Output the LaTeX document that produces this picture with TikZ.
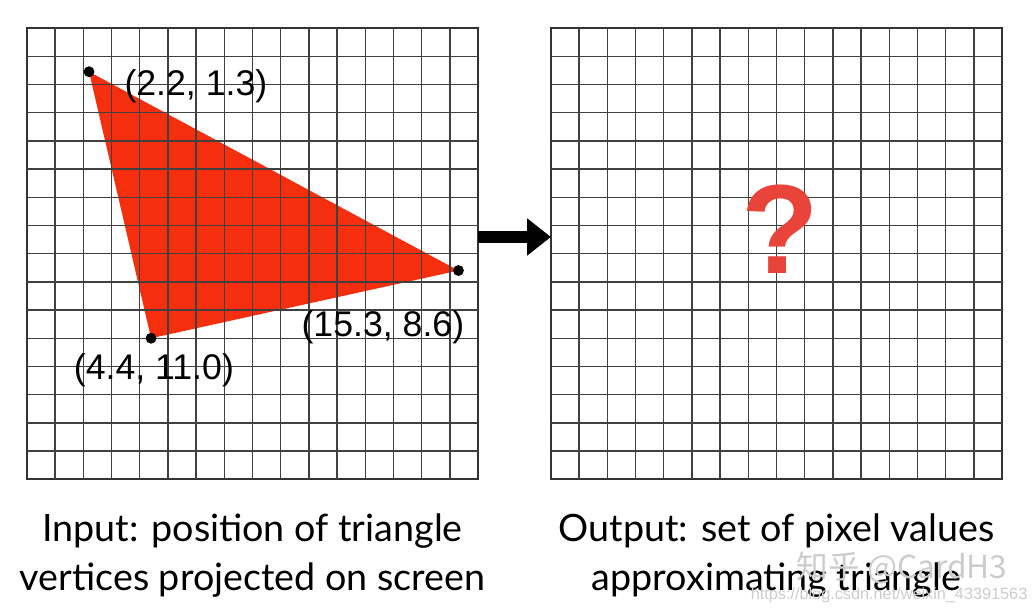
\documentclass[tikz,border=0pt]{standalone}
\usepackage{fontspec}
\setmainfont{Lato}
\newfontfamily\labelfont{Liberation Sans}
\newfontfamily\cjkfont{Noto Sans CJK SC}
\usetikzlibrary{positioning,arrows.meta}
\definecolor{trired}{RGB}{245,46,14}
\definecolor{qred}{RGB}{232,68,58}

\begin{document}
\begin{tikzpicture}[x=0.5cm,y=-0.5cm,
        gridbox/.style={draw=black!80, line width=0.8pt, minimum width=8cm, minimum height=8cm, inner sep=0pt, outer sep=0pt},
        gridline/.style={black!75, line width=0.7pt},
        vertex/.style={circle, fill=black, inner sep=0pt, minimum size=5.5pt},
        coordlabel/.style={font=\labelfont\fontsize{18}{20}\selectfont, inner sep=0pt},
        caption/.style={font=\fontsize{19}{25}\selectfont, align=center, inner sep=0pt},
        bigarrow/.style={line width=6pt, -{Triangle[length=12pt,width=18pt]}}]
        \useasboundingbox (-0.957,-0.993) rectangle (35.71,20.74);

        % triangle under the grid
        \coordinate (A) at (2.2,1.55);
        \coordinate (B) at (15.3,8.6);
        \coordinate (C) at (4.4,11.0);
        \fill[trired] (A) -- (B) -- (C) -- cycle;

        \node[gridbox]                    (lgrid) at (8,8) {};
        \node[gridbox, right=1.29cm of lgrid] (rgrid) {};
        \foreach \g in {lgrid,rgrid} {
            \begin{scope}[shift={(\g.north west)}]
                \foreach \i in {1,...,15} {
                    \draw[gridline] (\i,0) -- (\i,16);
                    \draw[gridline] (0,\i) -- (16,\i);
                }
            \end{scope}
        }

        \node[vertex] (va) at (A) {};
        \node[vertex] (vb) at (B) {};
        \node[vertex] (vc) at (C) {};
        \node[coordlabel] (la) at (5.99,2.06)  {(2.2, 1.3)};
        \node[coordlabel] (lb) at (12.62,10.6) {(15.3, 8.6)};
        \node[coordlabel] (lc) at (4.5,12.13)  {(4.4, 11.0)};

        \coordinate (arrowy) at (0,7.41);
        \draw[bigarrow] (lgrid.east |- arrowy) -- (rgrid.west |- arrowy);

        \node[font=\labelfont\bfseries\fontsize{64}{64}\selectfont, text=qred, inner sep=0pt] (qmark) at (26.7,7.13) {?};

        \node[caption, below=0.6cm of lgrid] (incap) {Input: position of triangle\\vertices projected on screen};
        \node[caption, below=0.6cm of rgrid] (outcap) {Output: set of pixel values\\approximating triangle};

        % watermark
        \node[font=\cjkfont\fontsize{16}{16}\selectfont, text=black!20, inner sep=0pt] (wm) at (31.03,19.15) {知乎 @CardH3};
        \node[font=\labelfont\fontsize{8.2}{9}\selectfont, text=black!20, inner sep=0pt] (url) at (30.57,20.1) {https://blog.csdn.net/weixin\_43391563};
\end{tikzpicture}
\end{document}
